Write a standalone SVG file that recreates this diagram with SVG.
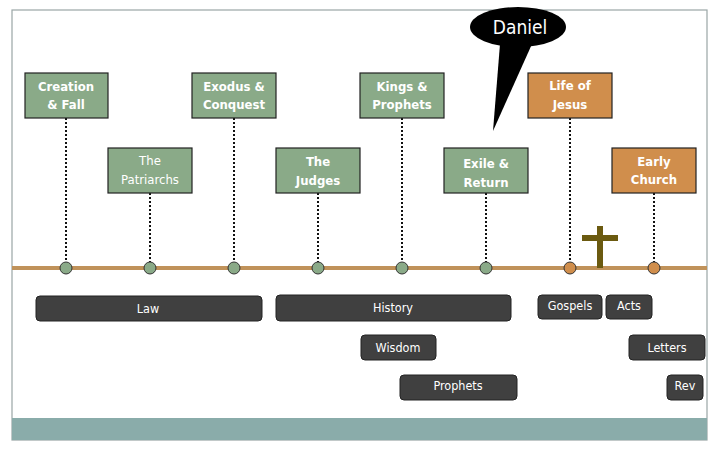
<svg xmlns="http://www.w3.org/2000/svg" width="720" height="450" viewBox="0 0 720 450">
<style>
text{font-family:"DejaVu Sans Condensed","DejaVu Sans",sans-serif;font-size:13px;fill:#fff;text-anchor:middle;font-weight:bold}
.g{fill:#8aaa88;stroke:#222;stroke-width:1.2}
.o{fill:#d08e4c;stroke:#222;stroke-width:1.2}
.b rect{fill:#404040;stroke:#222;stroke-width:1}
.b text{font-weight:normal;font-size:12.5px}
.dl{stroke:#111;stroke-width:2;stroke-dasharray:2,2}
.dg{fill:#8aaa88;stroke:#333}
.do{fill:#d08e4c;stroke:#333}
</style>
<rect width="720" height="450" fill="#fff"/>
<rect x="12" y="10" width="695" height="430" fill="#fff" stroke="#9aa6a6" stroke-width="1.2"/>
<rect x="12" y="418" width="695" height="22" fill="#8aacaa"/>
<g id="connectors">
<line class="dl" x1="66" y1="118" x2="66" y2="262"/>
<line class="dl" x1="150" y1="193" x2="150" y2="262"/>
<line class="dl" x1="234" y1="118" x2="234" y2="262"/>
<line class="dl" x1="318" y1="193" x2="318" y2="262"/>
<line class="dl" x1="402" y1="118" x2="402" y2="262"/>
<line class="dl" x1="486" y1="193" x2="486" y2="262"/>
<line class="dl" x1="570" y1="118" x2="570" y2="262"/>
<line class="dl" x1="654" y1="193" x2="654" y2="262"/>
</g>
<g id="timeline">
<line x1="12" y1="268" x2="707" y2="268" stroke="#c0925a" stroke-width="4"/>
<circle class="dg" cx="66" cy="268" r="6"/><circle class="dg" cx="150" cy="268" r="6"/>
<circle class="dg" cx="234" cy="268" r="6"/><circle class="dg" cx="318" cy="268" r="6"/>
<circle class="dg" cx="402" cy="268" r="6"/><circle class="dg" cx="486" cy="268" r="6"/>
<circle class="do" cx="570" cy="268" r="6"/><circle class="do" cx="654" cy="268" r="6"/>
</g>
<g id="cross" fill="#6b5a10"><rect x="597" y="226" width="6" height="42"/><rect x="582" y="235" width="36" height="6"/></g>
<g id="n1"><rect class="g" x="25" y="73" width="83" height="45"/><text x="66" y="91">Creation</text><text x="66" y="109">&amp; Fall</text></g>
<g id="n2"><rect class="g" x="108" y="148" width="84" height="45"/><text x="150" y="165" style="font-weight:normal">The</text><text x="150" y="184" style="font-weight:normal">Patriarchs</text></g>
<g id="n3"><rect class="g" x="192" y="73" width="84" height="45"/><text x="234" y="91">Exodus &amp;</text><text x="234" y="109">Conquest</text></g>
<g id="n4"><rect class="g" x="276" y="148" width="84" height="45"/><text x="318" y="166">The</text><text x="318" y="185">Judges</text></g>
<g id="n5"><rect class="g" x="360" y="73" width="84" height="45"/><text x="402" y="91">Kings &amp;</text><text x="402" y="109">Prophets</text></g>
<g id="n6"><rect class="g" x="444" y="148" width="84" height="45"/><text x="486" y="168">Exile &amp;</text><text x="486" y="187">Return</text></g>
<g id="n7"><rect class="o" x="528" y="73" width="84" height="45"/><text x="570" y="90">Life of</text><text x="570" y="109">Jesus</text></g>
<g id="n8"><rect class="o" x="612" y="148" width="84" height="45"/><text x="654" y="166">Early</text><text x="654" y="184">Church</text></g>
<g id="daniel"><path d="M500,44 L493,131 L532,44 Z" fill="#000"/><ellipse cx="518" cy="27" rx="48" ry="20" fill="#000"/><text x="520" y="34" style="font-size:19px;font-weight:normal">Daniel</text></g>
<g class="b" id="law"><rect x="36" y="296" width="226" height="25" rx="4"/><text x="148" y="313">Law</text></g>
<g class="b" id="history"><rect x="276" y="295" width="235" height="26" rx="4"/><text x="393" y="312">History</text></g>
<g class="b" id="gospels"><rect x="538" y="295" width="64" height="24" rx="4"/><text x="570" y="310">Gospels</text></g>
<g class="b" id="acts"><rect x="606" y="295" width="46" height="24" rx="4"/><text x="629" y="310">Acts</text></g>
<g class="b" id="wisdom"><rect x="361" y="335" width="75" height="25" rx="4"/><text x="398" y="352">Wisdom</text></g>
<g class="b" id="letters"><rect x="629" y="335" width="76" height="25" rx="4"/><text x="667" y="352">Letters</text></g>
<g class="b" id="prophets"><rect x="400" y="375" width="117" height="25" rx="4"/><text x="458" y="390">Prophets</text></g>
<g class="b" id="rev"><rect x="667" y="375" width="36" height="25" rx="4"/><text x="685" y="390">Rev</text></g>
</svg>
